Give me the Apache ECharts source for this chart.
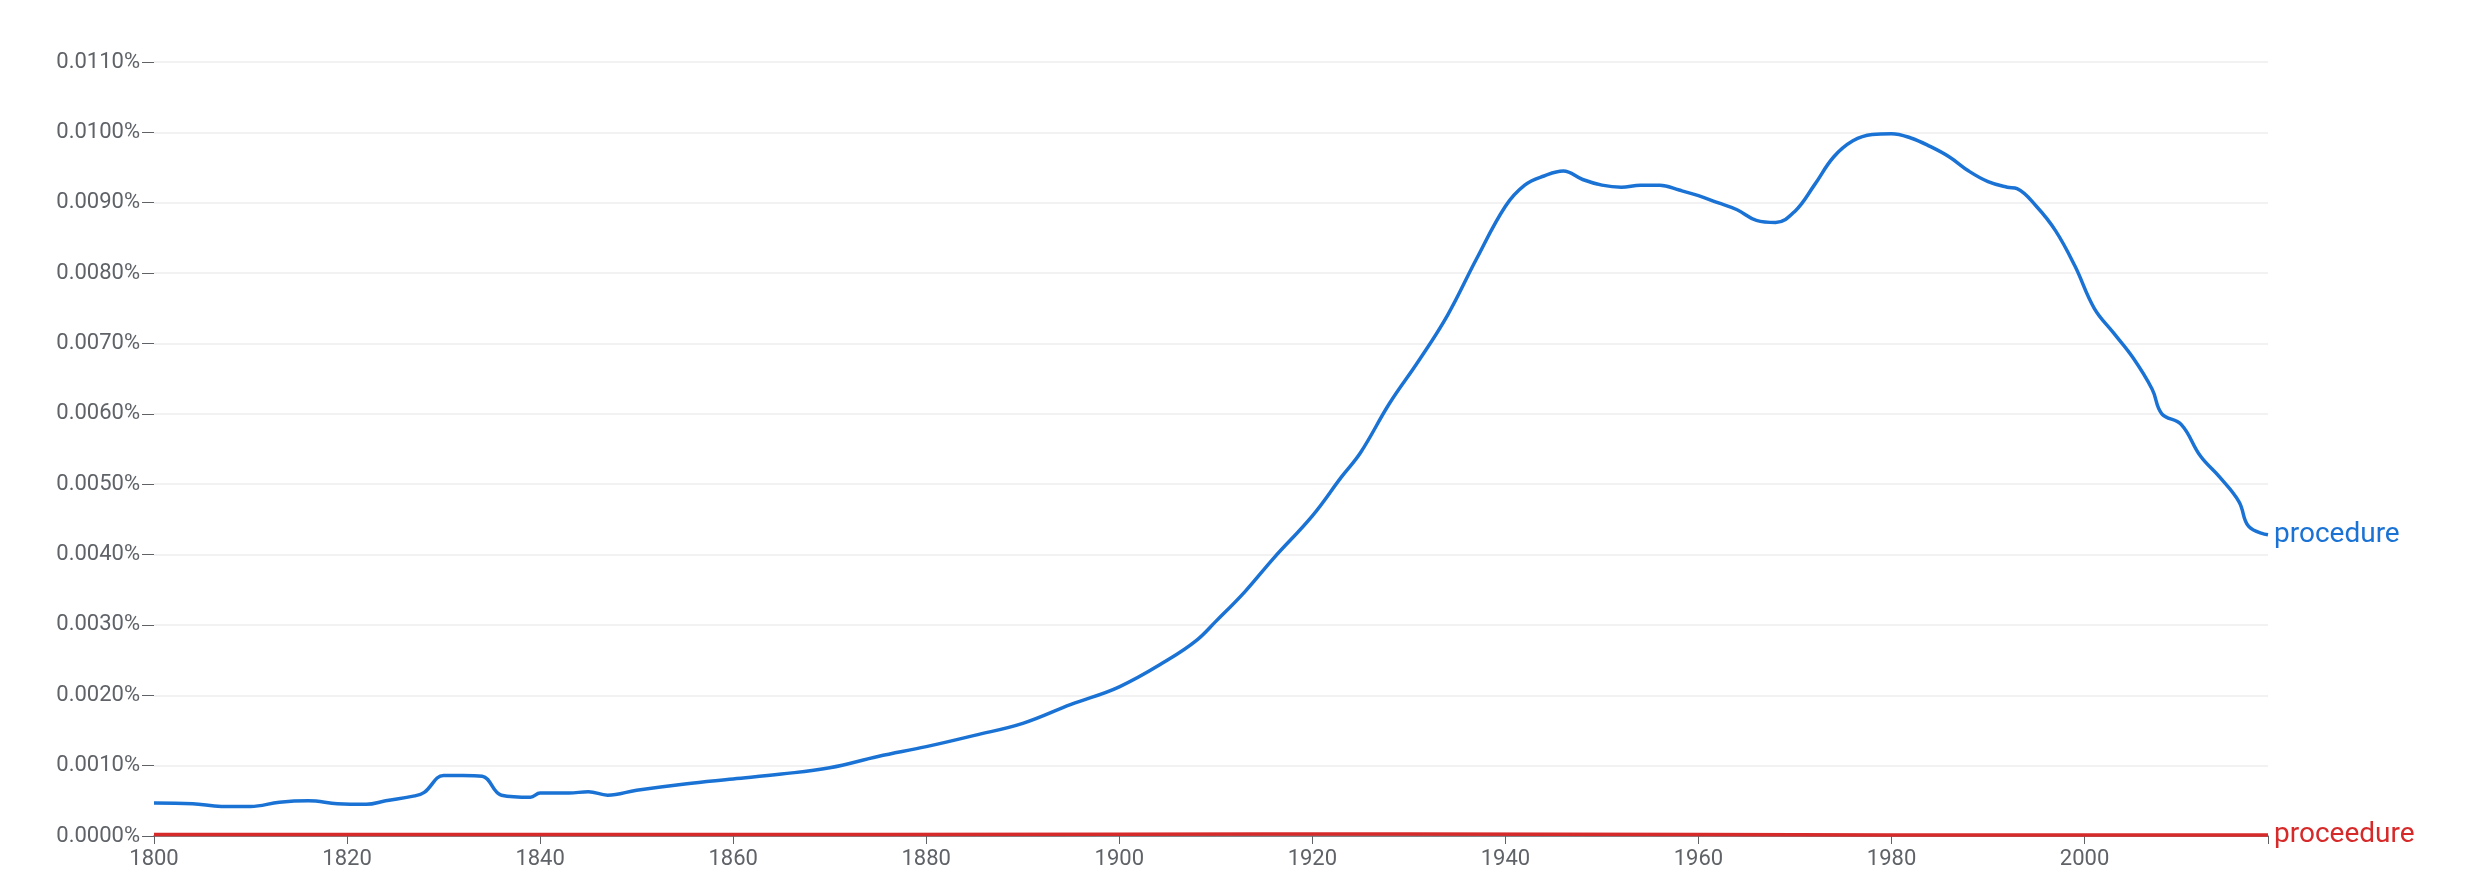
<!DOCTYPE html>
<html><head><meta charset="utf-8">
<script src="https://cdn.jsdelivr.net/npm/echarts@6/dist/echarts.min.js"></script>
<style>html,body{margin:0;background:#fff}#c{width:2466px;height:894px}</style>
</head><body><div id="c"></div>
<script>
// values in units of 0.001%
const years = [1800,1804,1807,1810,1813,1816,1819,1822,1824,1827,1828,1830,1832,1834,1836,1839,1840,1843,1845,1847,1850,1855,1860,1865,1870,1875,1880,1885,1890,1895,1900,1905,1908,1910,1913,1916,1920,1923,1925,1928,1931,1934,1937,1940,1942,1944,1946,1948,1950,1952,1954,1956,1958,1960,1962,1964,1966,1968,1970,1972,1974,1976,1978,1980,1982,1984,1986,1988,1990,1992,1993,1995,1997,1999,2001,2003,2005,2007,2008,2010,2012,2014,2016,2017,2019];
const procedure = [0.47,0.46,0.42,0.42,0.48,0.50,0.46,0.45,0.50,0.57,0.62,0.86,0.86,0.85,0.58,0.55,0.61,0.61,0.63,0.58,0.65,0.74,0.81,0.88,0.97,1.13,1.27,1.43,1.60,1.87,2.12,2.50,2.78,3.05,3.47,3.95,4.55,5.10,5.45,6.15,6.75,7.40,8.20,8.95,9.25,9.38,9.45,9.33,9.25,9.22,9.25,9.25,9.18,9.10,9.00,8.90,8.75,8.72,8.88,9.25,9.65,9.88,9.97,9.98,9.92,9.80,9.65,9.45,9.30,9.22,9.20,8.95,8.60,8.10,7.50,7.15,6.80,6.35,6.00,5.85,5.40,5.10,4.75,4.40,4.28];
const redYears = [1800,1850,1900,1930,1960,2000,2019];
const proceedure = [0.02,0.02,0.025,0.03,0.02,0.015,0.015];
const chart = echarts.init(document.getElementById('c'));
const font = 'Roboto';
chart.setOption({
  animation:false,
  grid:{left:154,right:198,top:62,bottom:58},
  xAxis:{type:'value',min:1800,max:2019,interval:20,
    axisLine:{lineStyle:{color:'#5f6368',width:1.5}},
    axisTick:{show:true,length:8,lineStyle:{color:'#5f6368'}},
    splitLine:{show:false},
    axisLabel:{color:'#5f6368',fontFamily:font,fontSize:22,margin:12,
      formatter:v=> v%20===0 ? String(v):''}},
  yAxis:{type:'value',min:0,max:11,interval:1,
    axisLine:{show:false},
    axisTick:{show:true,length:12,lineStyle:{color:'#5f6368'}},
    splitLine:{lineStyle:{color:'#eeeeee',width:1.5}},
    axisLabel:{color:'#5f6368',fontFamily:font,fontSize:22,margin:14,
      formatter:v=>(v/1000).toFixed(4)+'%'}},
  series:[
    {name:'procedure',type:'line',smooth:0.4,showSymbol:false,
     data:years.map((y,i)=>[y,procedure[i]]),
     lineStyle:{color:'#1a73d4',width:3.5},itemStyle:{color:'#1a73d4'},
     endLabel:{show:true,formatter:'{a}',color:'#1a73d4',fontFamily:font,fontSize:28,distance:6}},
    {name:'proceedure',type:'line',smooth:true,showSymbol:false,
     data:redYears.map((y,i)=>[y,proceedure[i]]),
     lineStyle:{color:'#d62a2a',width:3.5},itemStyle:{color:'#d62a2a'},
     endLabel:{show:true,formatter:'{a}',color:'#d62a2a',fontFamily:font,fontSize:28,distance:6}}
  ]
});
</script></body></html>
